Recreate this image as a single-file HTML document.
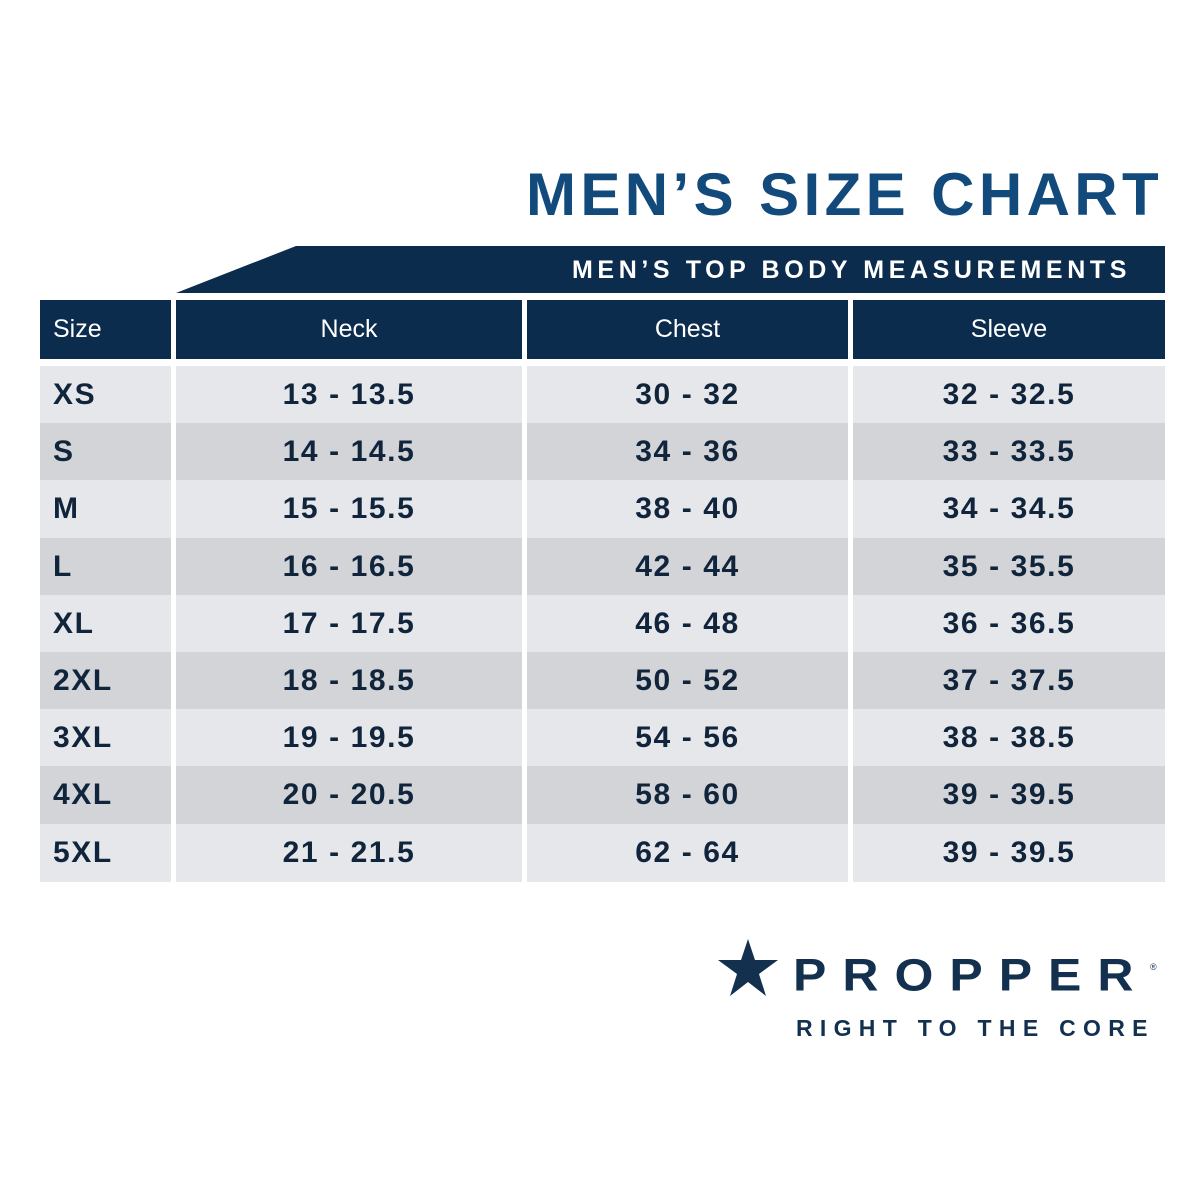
<!DOCTYPE html><html><head><style>
body{margin:0;width:1200px;height:1200px;background:#fff;position:relative;font-family:"Liberation Sans",sans-serif;overflow:hidden}
.a{position:absolute}
.h{background:#0c2c4e;color:#fff;font-size:25px;display:flex;align-items:center;justify-content:center}
.c{display:flex;align-items:center;justify-content:center;font-weight:bold;font-size:30px;color:#10243c;letter-spacing:1.6px}
</style></head><body>
<div class="a" style="left:526px;top:160px;font-size:60px;font-weight:bold;color:#124a7c;letter-spacing:4.4px;white-space:nowrap">MEN’S SIZE CHART</div>
<svg class="a" style="left:0;top:0" width="1200" height="300"><polygon points="176,293 296,246 1165,246 1165,293" fill="#0c2c4e"/></svg>
<div class="a" style="left:572px;top:256px;font-size:25px;font-weight:bold;color:#fff;letter-spacing:4.6px;white-space:nowrap">MEN’S TOP BODY MEASUREMENTS</div>
<div class="a h" style="left:40px;top:300px;width:131px;height:59px;justify-content:flex-start;padding-left:13px;box-sizing:border-box">Size</div>
<div class="a h" style="left:176px;top:300px;width:346px;height:59px">Neck</div>
<div class="a h" style="left:527px;top:300px;width:321px;height:59px">Chest</div>
<div class="a h" style="left:853px;top:300px;width:312px;height:59px">Sleeve</div>
<div id="rows"></div>
<script>
var d=[["XS","13 - 13.5","30 - 32","32 - 32.5"],["S","14 - 14.5","34 - 36","33 - 33.5"],["M","15 - 15.5","38 - 40","34 - 34.5"],["L","16 - 16.5","42 - 44","35 - 35.5"],["XL","17 - 17.5","46 - 48","36 - 36.5"],["2XL","18 - 18.5","50 - 52","37 - 37.5"],["3XL","19 - 19.5","54 - 56","38 - 38.5"],["4XL","20 - 20.5","58 - 60","39 - 39.5"],["5XL","21 - 21.5","62 - 64","39 - 39.5"]];
var cols=[[40,131],[176,346],[527,321],[853,312]],h="";
d.forEach(function(r,i){var y=366+i*57.2,bg=i%2?"#d3d4d8":"#e6e7ea";
r.forEach(function(t,j){var c=cols[j];h+='<div class="a c" style="left:'+c[0]+'px;top:'+y+'px;width:'+c[1]+'px;height:58px;background:'+bg+';'+(j==0?'justify-content:flex-start;padding-left:13px;box-sizing:border-box;':'')+'">'+t+'</div>'})});
document.getElementById("rows").innerHTML=h;
</script>
<svg class="a" style="left:718px;top:938px" width="60" height="60" viewBox="0 0 60 60"><polygon fill="#13304f" points="30,1 37,22 60,22 41,36 48,58 30,44 12,58 19,36 0,22 23,22"/></svg>
<div class="a" style="left:793px;top:950px;font-size:50px;font-weight:bold;color:#13304f;letter-spacing:16px;line-height:1;transform:scaleY(.9);white-space:nowrap">PROPPER</div>
<div class="a" style="left:1150px;top:962px;font-size:9px;color:#13304f">®</div>
<div class="a" style="left:796px;top:1015px;font-size:23px;font-weight:bold;color:#13304f;letter-spacing:7.3px;white-space:nowrap">RIGHT TO THE CORE</div>
</body></html>
